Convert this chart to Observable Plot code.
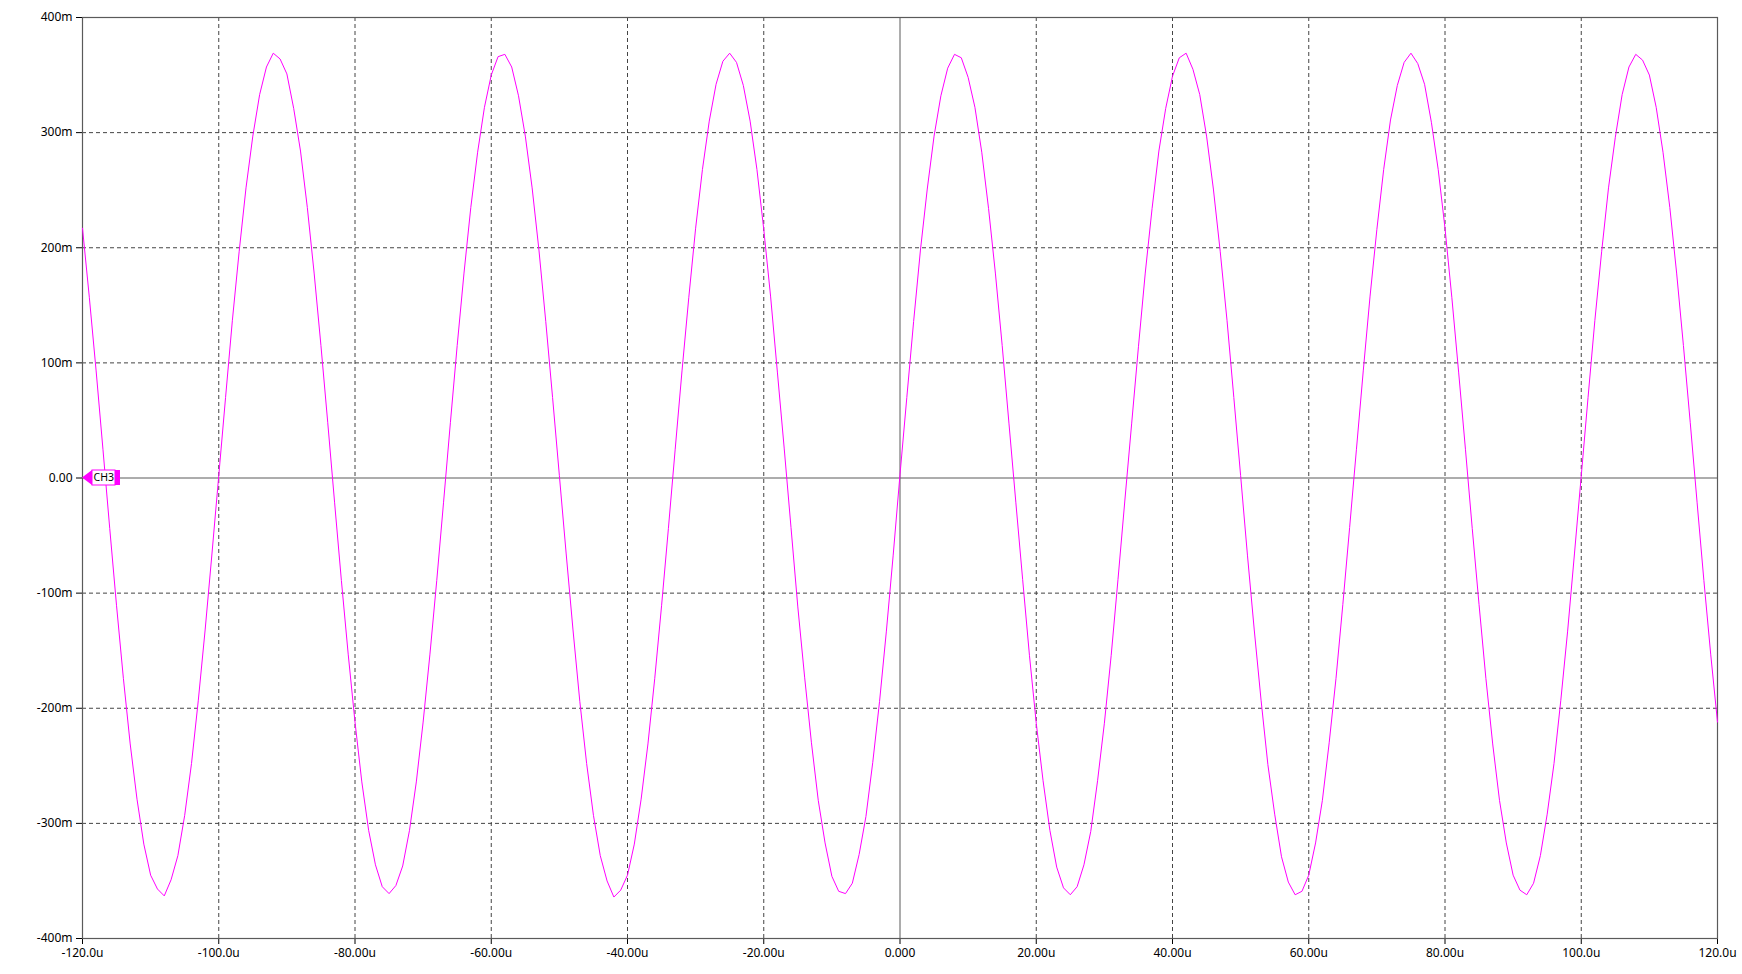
<!DOCTYPE html>
<html>
<head>
<meta charset="utf-8">
<script src="https://cdn.jsdelivr.net/npm/d3@7"></script>
<script src="https://cdn.jsdelivr.net/npm/@observablehq/plot@0.6"></script>
<style>
  html, body { margin: 0; padding: 0; background: #fff; }
  #chart { width: 1742px; height: 974px; overflow: hidden; }
</style>
</head>
<body>
<div id="chart"></div>
<script>
// Time axis (µs), one sample per microsecond
const times = d3.range(-120, 121, 1);
// CH3 voltage (mV)
const ch3 = [
  217, 157, 93, 25, -44, -111, -174, -231, -279, -318,
  -345, -357, -363, -349, -328, -293, -248, -193, -132, -66,
  2, 70, 137, 197, 252, 297, 333, 357, 369, 364,
  351, 321, 284, 235, 178, 115, 48, -21, -89, -153,
  -212, -264, -306, -336, -355, -361, -354, -337, -306, -264,
  -212, -153, -89, -21, 48, 115, 178, 235, 283, 322,
  350, 366, 368, 357, 332, 297, 252, 198, 136, 70,
  2, -66, -132, -194, -248, -293, -328, -350, -364, -358,
  -345, -318, -279, -231, -174, -111, -44, 25, 93, 157,
  217, 268, 310, 342, 362, 369, 361, 341, 310, 268,
  216, 158, 92, 26, -43, -112, -173, -230, -280, -317,
  -346, -359, -361, -352, -327, -294, -247, -194, -133, -67,
  3, 70, 136, 198, 251, 297, 332, 356, 368, 365,
  348, 322, 283, 234, 178, 115, 47, -21, -88, -154,
  -213, -263, -306, -338, -356, -362, -355, -336, -307, -263,
  -213, -154, -88, -20, 47, 114, 178, 234, 284, 321,
  349, 365, 369, 355, 333, 297, 251, 197, 137, 70,
  2, -67, -132, -193, -249, -292, -329, -351, -362, -359,
  -345, -317, -280, -230, -174, -110, -43, 25, 93, 158,
  216, 268, 311, 341, 361, 369, 360, 342, 309, 268,
  217, 157, 92, 25, -44, -110, -174, -231, -280, -317,
  -345, -358, -362, -352, -328, -292, -248, -193, -133, -66,
  2, 70, 137, 197, 252, 296, 333, 357, 368, 363,
  350, 322, 283, 235, 178, 115, 48, -21, -89, -153,
  -212
];
const xTicks = [-120, -100, -80, -60, -40, -20, 0, 20, 40, 60, 80, 100, 120];
const xTickLabels = ["-120.0u", "-100.0u", "-80.00u", "-60.00u", "-40.00u", "-20.00u", "0.000",
  "20.00u", "40.00u", "60.00u", "80.00u", "100.0u", "120.0u"];
const yTicks = [-400, -300, -200, -100, 0, 100, 200, 300, 400];
const yTickLabels = ["-400m", "-300m", "-200m", "-100m", "0.00", "100m", "200m", "300m", "400m"];
const channelName = "CH3";

const trace = times.map((t, i) => ({t, v: ch3[i]}));
const xGrid = xTicks.filter(d => d !== 0 && d !== xTicks[0] && d !== xTicks[xTicks.length - 1]);
const yGrid = yTicks.filter(d => d !== 0 && d !== yTicks[0] && d !== yTicks[yTicks.length - 1]);

const frameColor = "#5a5a5a";
const traceColor = "#ff00ff";

function marker(index, scales) {
  const x0 = scales.x(xTicks[0]);
  const y0 = scales.y(0);
  const g = d3.create("svg:g");
  g.append("polygon")
    .attr("points", `${x0},${y0} ${x0 + 10},${y0 - 7.5} ${x0 + 10},${y0 + 7.5}`)
    .attr("fill", traceColor);
  g.append("rect")
    .attr("x", x0 + 10).attr("y", y0 - 7.5).attr("width", 23).attr("height", 15)
    .attr("fill", "#fff").attr("stroke", traceColor).attr("stroke-width", 1);
  g.append("rect")
    .attr("x", x0 + 33).attr("y", y0 - 7.5).attr("width", 5).attr("height", 15)
    .attr("fill", traceColor);
  g.append("text")
    .attr("x", x0 + 11.5).attr("y", y0).attr("dy", "0.35em")
    .attr("text-anchor", "start")
    .attr("font-size", 10.5).attr("fill", "#000")
    .text(channelName);
  return g.node();
}

const chart = Plot.plot({
  width: 1742,
  height: 974,
  marginLeft: 82,
  marginRight: 25,
  marginTop: 17,
  marginBottom: 36,
  style: {fontFamily: "'Noto Sans', 'DejaVu Sans', sans-serif", fontSize: "12px", color: "#000", background: "#fff"},
  x: {
    domain: [xTicks[0], xTicks[xTicks.length - 1]],
    ticks: xTicks,
    tickFormat: d => xTickLabels[xTicks.indexOf(d)],
    tickSize: 6,
    tickPadding: 4,
    label: null
  },
  y: {
    domain: [yTicks[0], yTicks[yTicks.length - 1]],
    ticks: yTicks,
    tickFormat: d => yTickLabels[yTicks.indexOf(d)],
    tickSize: 6,
    tickPadding: 4,
    label: null
  },
  marks: [
    Plot.ruleX(xGrid, {stroke: "#444", strokeWidth: 1, strokeDasharray: "4,3"}),
    Plot.ruleY(yGrid, {stroke: "#444", strokeWidth: 1, strokeDasharray: "4,3"}),
    Plot.ruleX([0], {stroke: frameColor, strokeWidth: 1}),
    Plot.ruleY([0], {stroke: frameColor, strokeWidth: 1}),
    Plot.frame({stroke: frameColor, strokeWidth: 1.2}),
    Plot.line(trace, {x: "t", y: "v", stroke: traceColor, strokeWidth: 1}),
    marker
  ]
});
document.getElementById("chart").appendChild(chart);
</script>
</body>
</html>
